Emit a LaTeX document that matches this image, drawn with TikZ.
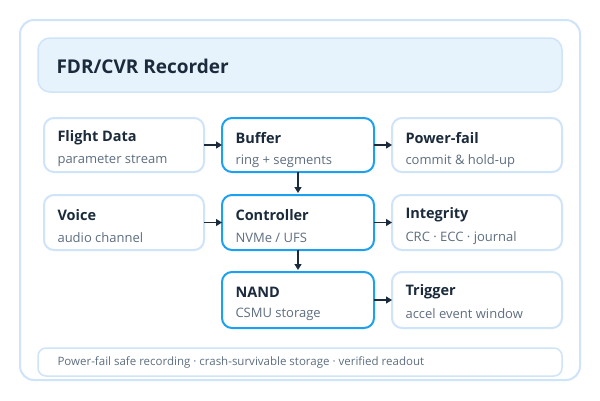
\documentclass[tikz,border=0pt]{standalone}
\usepackage{fontspec}
\setmainfont{Open Sans}
\usetikzlibrary{arrows.meta}
\definecolor{dark}{HTML}{1B2B3C}
\definecolor{sub}{HTML}{5E6E80}
\definecolor{lb}{HTML}{CFE4F8}
\definecolor{hb}{HTML}{1EA0F0}
\definecolor{tf}{HTML}{E6F3FD}
\begin{document}
\begin{tikzpicture}[x=1pt,y=-1pt,
 box/.style={draw=lb,line width=2pt,rounded corners=10pt,fill=white},
 hbox/.style={draw=hb,line width=2pt,rounded corners=10pt,fill=white},
 ttl/.style={anchor=west,text=dark,font=\bfseries\fontsize{14.5}{17}\selectfont},
 st/.style={anchor=west,text=sub,font=\fontsize{13}{15}\selectfont},
 arr/.style={-{Triangle[length=6pt,width=7pt]},draw=dark,line width=1.2pt}]
\useasboundingbox (0,0) rectangle (600,400);
\fill[white] (0,0) rectangle (600,400);
\draw[draw=lb,line width=2pt,rounded corners=14pt,fill=white] (20,20) rectangle (580,380);
\draw[draw=lb,line width=1.5pt,rounded corners=12pt,fill=tf] (38,38) rectangle (562,92);
\node[anchor=west,text=dark,font=\bfseries\fontsize{19}{22}\selectfont] (title) at (53,66) {FDR/CVR Recorder};
\newcommand{\bx}[7]{%
 \draw[#7] (#2,#3) rectangle (#4,#5);
 \coordinate (#1w) at (#2,{(#3+#5)/2});
 \coordinate (#1e) at (#4,{(#3+#5)/2});
 \coordinate (#1n) at ({(#2+#4)/2},#3);
 \coordinate (#1s) at ({(#2+#4)/2},#5);
 \node[ttl] (#1t) at ({#2+10},{#3+20}) {#6};}
\bx{fd}{44}{118}{204}{172}{Flight Data}{box}
\node[st] (fds) at (54,161) {parameter stream};
\bx{bu}{222}{118}{374}{172}{Buffer}{hbox}
\node[st] (bus) at (232,161) {ring + segments};
\bx{pf}{392}{118}{562}{172}{Power-fail}{box}
\node[st] (pfs) at (402,161) {commit \& hold-up};
\bx{vo}{44}{195}{204}{250}{Voice}{box}
\node[st] (vos) at (54,238) {audio channel};
\bx{co}{222}{195}{374}{250}{Controller}{hbox}
\node[st] (cos) at (232,238) {NVMe / UFS};
\bx{in}{392}{195}{562}{250}{Integrity}{box}
\node[st] (ins) at (402,238) {CRC · ECC · journal};
\bx{na}{222}{272}{374}{328}{NAND}{hbox}
\node[st] (nas) at (232,314) {CSMU storage};
\bx{tr}{392}{272}{562}{328}{Trigger}{box}
\node[st] (trs) at (402,314) {accel event window};
\draw[arr] (fde) -- (buw);
\draw[arr] (bue) -- (pfw);
\draw[arr] (voe) -- (cow);
\draw[arr] (coe) -- (inw);
\draw[arr] (nae) -- (trw);
\draw[arr] (bus) (bun |- 0,172) -- (bun |- 0,193);
\draw[arr] (bun |- 0,250) -- (bun |- 0,270);
\draw[draw=lb,line width=1.5pt,rounded corners=8pt,fill=white] (38,348) rectangle (562,376);
\node[anchor=west,text=sub,font=\fontsize{11.5}{14}\selectfont] (foot) at (54,362) {Power-fail safe recording · crash-survivable storage · verified readout};
\end{tikzpicture}
\end{document}
